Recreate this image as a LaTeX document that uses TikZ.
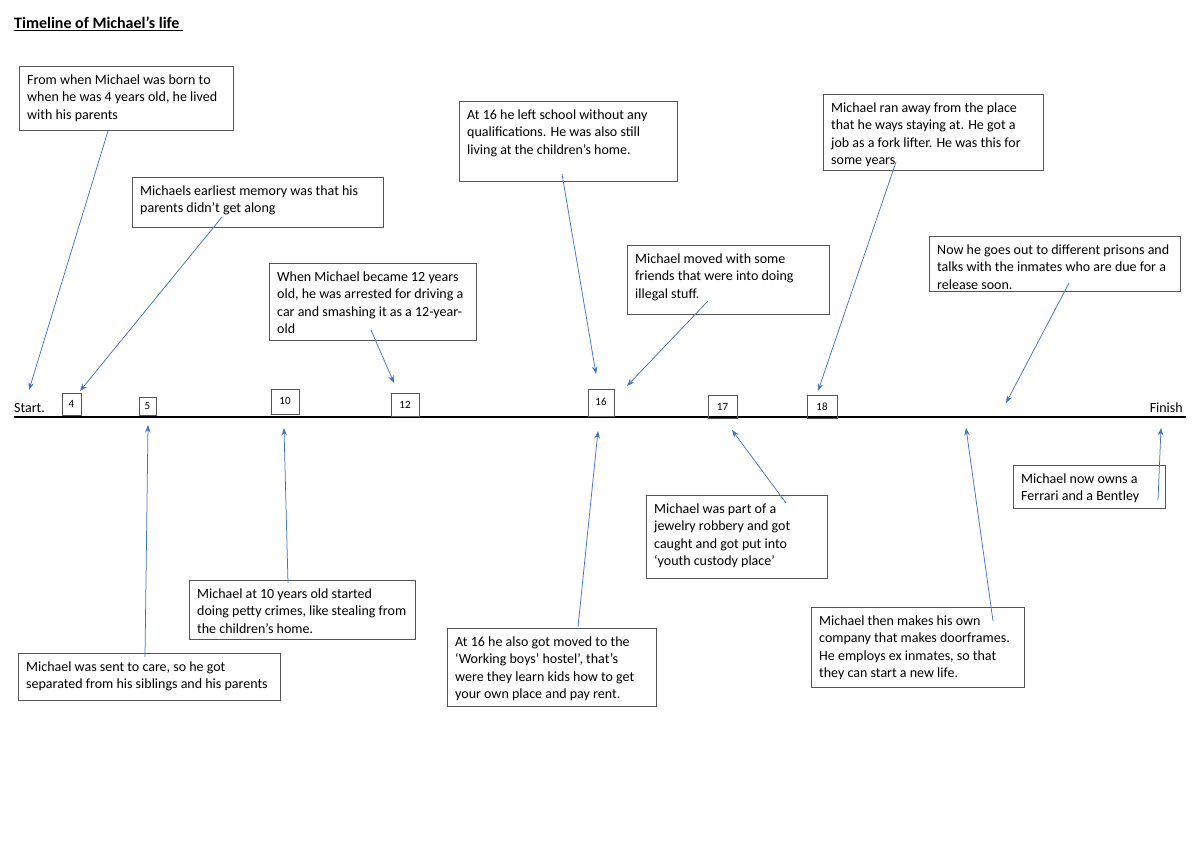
\documentclass[tikz,border=0pt]{standalone}
\usepackage{fontspec}
\setmainfont{Carlito}
\usetikzlibrary{arrows.meta,fit}
\definecolor{arrblue}{RGB}{68,114,196}
\definecolor{boxgray}{RGB}{85,85,85}
\begin{document}
\begin{tikzpicture}[x=1pt,y=-1pt,
  box/.style={draw=boxgray, line width=0.9pt, inner sep=0pt},
  txt/.style={anchor=north west, inner sep=0pt, align=left, font=\fontsize{14}{17.3}\selectfont},
  yr/.style={draw=boxgray, line width=1pt, inner sep=0pt},
  yrt/.style={inner sep=0pt, font=\fontsize{11}{13}\selectfont},
  arr/.style={draw=arrblue, line width=0.75pt, -{Stealth[length=7.5pt,width=5.5pt]}},
  axis/.style={line width=1.8pt, black}]
\useasboundingbox (0,0) rectangle (1200,848);

% title
\node[anchor=north west, inner sep=0pt, font=\fontsize{16}{19}\selectfont\bfseries] (title) at (14,17) {\underline{Timeline of Michael’s life\ }};

% axis
\coordinate (axL) at (14,417);
\coordinate (axR) at (1186,417);
\draw[axis] (axL) -- (axR);
\node[anchor=base west, inner sep=0pt, font=\fontsize{14}{16}\selectfont] (start) at (14,412) {Start.};
\node[anchor=base east, inner sep=0pt, font=\fontsize{14}{16}\selectfont] (finish) at (1183,412) {Finish};

% year boxes
\node[yr, fit={(62,393)(81,415)}] (y4) {};   \node[yrt] (y4t) at (y4) {4};
\node[yr, fit={(139,397)(156,415)}] (y5) {}; \node[yrt] (y5t) at (y5) {5};
\node[yr, fit={(271,389)(299,414)}] (y10) {}; \node[yrt] (y10t) at ([yshift=1pt]y10) {10};
\node[yr, fit={(391,393)(419,416)}] (y12) {}; \node[yrt] (y12t) at (y12) {12};
\node[yr, fit={(588,389)(614,416)}] (y16) {}; \node[yrt] (y16t) at ([yshift=1pt]y16) {16};
\node[yr, fit={(708,395)(737,418)}] (y17) {}; \node[yrt] (y17t) at (y17) {17};
\node[yr, fit={(807,395)(837,418)}] (y18) {}; \node[yrt] (y18t) at (y18) {18};

% upper boxes
\node[box, fit={(19,66)(233,130)}] (b1) {};
\node[txt] (t1) at (27,74.5) {From when Michael was born to\\when he was 4 years old, he lived\\with his parents};

\node[box, fit={(132,177)(383,227)}] (b2) {};
\node[txt] (t2) at (140,185.5) {Michaels earliest memory was that his\\parents didn’t get along};

\node[box, fit={(269,263)(476,340)}] (b3) {};
\node[txt] (t3) at (277,271.5) {When Michael became 12 years\\old, he was arrested for driving a\\car and smashing it as a 12-year-\\old};

\node[box, fit={(459,101)(677,181)}] (b4) {};
\node[txt] (t4) at (467,109.5) {At 16 he left school without any\\qualifications. He was also still\\living at the children’s home.};

\node[box, fit={(627,245)(829,314)}] (b5) {};
\node[txt] (t5) at (635,253.5) {Michael moved with some\\friends that were into doing\\illegal stuff.};

\node[box, fit={(823,94)(1043,170)}] (b6) {};
\node[txt] (t6) at (831,102.5) {Michael ran away from the place\\that he ways staying at. He got a\\job as a fork lifter. He was this for\\some years};

\node[box, fit={(929,236)(1180,291)}] (b7) {};
\node[txt] (t7) at (937,244.5) {Now he goes out to different prisons and\\talks with the inmates who are due for a\\release soon.};

% lower boxes
\node[box, fit={(18,653)(280,700)}] (b8) {};
\node[txt] (t8) at (26,661.5) {Michael was sent to care, so he got\\separated from his siblings and his parents};

\node[box, fit={(189,580)(415,639)}] (b9) {};
\node[txt] (t9) at (197,588.5) {Michael at 10 years old started\\doing petty crimes, like stealing from\\the children’s home.};

\node[box, fit={(447,628)(656,706)}] (b10) {};
\node[txt] (t10) at (455,636.5) {At 16 he also got moved to the\\‘Working boys’ hostel’, that’s\\were they learn kids how to get\\your own place and pay rent.};

\node[box, fit={(646,495)(827,578)}] (b11) {};
\node[txt] (t11) at (654,503.5) {Michael was part of a\\jewelry robbery and got\\caught and got put into\\‘youth custody place’};

\node[box, fit={(811,607)(1024,687)}] (b12) {};
\node[txt] (t12) at (819,615.5) {Michael then makes his own\\company that makes doorframes.\\He employs ex inmates, so that\\they can start a new life.};

\node[box, fit={(1013,465)(1165,508)}] (b13) {};
\node[txt] (t13) at (1021,473.5) {Michael now owns a\\Ferrari and a Bentley};

% arrow endpoints
\coordinate (s1) at (108,131);  \coordinate (e1) at (29,390);
\coordinate (s2) at (222,217);  \coordinate (e2) at (80,391);
\coordinate (s3) at (371,330);  \coordinate (e3) at (394,383);
\coordinate (s4) at (562,174);  \coordinate (e4) at (596,374);
\coordinate (s5) at (708,301);  \coordinate (e5) at (627,386);
\coordinate (s6) at (896,162);  \coordinate (e6) at (818,391);
\coordinate (s7) at (1069,283); \coordinate (e7) at (1006,403);
\coordinate (s8) at (145,657);  \coordinate (e8) at (148,425);
\coordinate (s9) at (288,583);  \coordinate (e9) at (284,428);
\coordinate (s10) at (578,627); \coordinate (e10) at (598,431);
\coordinate (s11) at (786,503); \coordinate (e11) at (732,430);
\coordinate (s12) at (993,621); \coordinate (e12) at (966,428);
\coordinate (s13) at (1158,500);\coordinate (e13) at (1161,428);

\foreach \i in {1,...,13} {\draw[arr] (s\i) -- (e\i);}
\end{tikzpicture}
\end{document}
